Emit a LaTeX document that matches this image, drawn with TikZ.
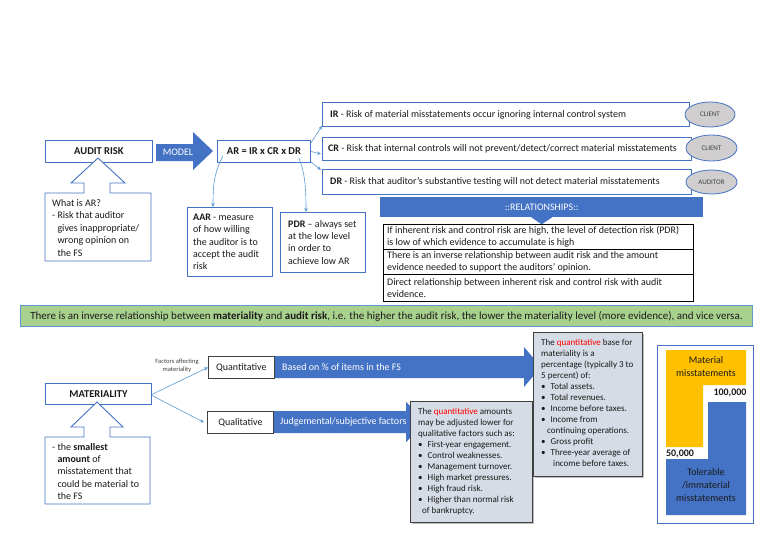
\documentclass[tikz,border=0pt]{standalone}
\usepackage{fontspec}
\setmainfont{Carlito}
\usetikzlibrary{arrows.meta,shapes.geometric}
\definecolor{ofblue}{HTML}{4472C4}
\definecolor{lnblue}{HTML}{5B9BD5}
\definecolor{orng}{HTML}{FFC000}
\definecolor{grn}{HTML}{A9D18E}
\definecolor{gbox}{HTML}{D6DCE5}
\definecolor{ellg}{HTML}{D0CECE}
\definecolor{ink}{HTML}{1A1A1A}
\definecolor{bdr}{HTML}{404040}
\tikzset{
  bx/.style={draw=ofblue, fill=white, line width=0.9pt, inner sep=0pt, anchor=north west},
  tb/.style={draw=black, fill=white, line width=0.8pt, inner sep=0pt, anchor=north west},
  bx2/.style={draw=bdr, fill=white, line width=0.8pt, inner sep=0pt, anchor=north west},
  gb/.style={draw=bdr, fill=gbox, line width=0.8pt, inner sep=0pt, anchor=north west},
  tx/.style={inner sep=0pt, align=left, text=ink, anchor=west},
  ttl/.style={font=\fontsize{10.5}{12}\selectfont\bfseries, text=ink},
  ell/.style={ellipse, draw=ofblue, fill=ellg, line width=0.8pt, inner sep=0pt, font=\fontsize{7}{8}\selectfont, text=bdr},
  conn/.style={draw=lnblue, line width=0.6pt, -{Stealth[length=4pt,width=3.5pt]}},
  sm/.style={font=\fontsize{9}{11}\selectfont},
}
\begin{document}
\begin{tikzpicture}[x=1pt, y=-1pt, font=\fontsize{10}{12.2}\selectfont]
\useasboundingbox[fill=white] (0,0) rectangle (768,543);

% ---------- AUDIT RISK ----------
\node[bx, ttl, minimum width=107pt, minimum height=22pt] (auditrisk) at (45,140) {AUDIT RISK};
\filldraw[draw=ofblue, fill=white, line width=0.9pt]
  (45,261) -- (151,261) -- (151,193) -- (110,193) -- (110,183) -- (125,183) -- (98,158)
  -- (71,183) -- (84,183) -- (84,193) -- (45,193) -- cycle;
\node[tx, font=\fontsize{10}{12.5}\selectfont] (whatar) at (52,228)
  {What is AR?\\- Risk that auditor\\\hphantom{- }gives inappropriate/\\\hphantom{- }wrong opinion on\\\hphantom{- }the FS};

% MODEL arrow
\fill[ofblue] (156,144) -- (193,144) -- (193,132) -- (213,151) -- (193,170) -- (193,161) -- (156,161) -- cycle;
\node[text=white, inner sep=0pt] (model) at (178,152.5) {MODEL};

% AR box
\node[bx, ttl, minimum width=93pt, minimum height=22pt] (ar) at (217,140) {AR = IR x CR x DR};

% AAR and PDR
\node[bx, minimum width=85pt, minimum height=69pt] (aar) at (187,207) {};
\node[tx] (aart) at ([xshift=6pt]aar.west) {\textbf{AAR} - measure\\of how willing\\the auditor is to\\accept the audit\\risk};
\node[bx, minimum width=85pt, minimum height=60pt] (pdr) at (280,212) {};
\node[tx] (pdrt) at ([xshift=8pt]pdr.west) {\textbf{PDR} -- always set\\at the low level\\in order to\\achieve low AR};

% IR CR DR
\node[bx, minimum width=367pt, minimum height=24pt] (ir) at (322,102) {};
\node[tx] (irt) at ([xshift=8pt]ir.west) {\textbf{IR} - Risk of material misstatements occur ignoring internal control system};
\node[bx, minimum width=369pt, minimum height=23pt] (cr) at (322,137) {};
\node[tx] (crt) at ([xshift=6pt]cr.west) {\textbf{CR} - Risk that internal controls will not prevent/detect/correct material misstatements};
\node[bx, minimum width=369pt, minimum height=25pt] (dr) at (322,169) {};
\node[tx] (drt) at ([xshift=8pt]dr.west) {\textbf{DR} - Risk that auditor’s substantive testing will not detect material misstatements};

\node[ell, minimum width=50pt, minimum height=25pt] (e1) at (710,114.5) {CLIENT};
\node[ell, minimum width=51pt, minimum height=26pt] (e2) at (711.5,148) {CLIENT};
\node[ell, minimum width=51pt, minimum height=24pt] (e3) at (711.5,182) {AUDITOR};

% connectors from AR
\draw[conn] ([yshift=-3pt]ar.north east) -- ([yshift=1pt]ir.south west);
\draw[conn] (ar.east) -- ([xshift=-1pt,yshift=-5pt]cr.west);
\draw[conn] ([yshift=1pt]ar.south east) -- ([xshift=-1pt,yshift=-1pt]dr.north west);
\draw[conn] ([xshift=6pt,yshift=7pt]ar.south west) .. controls +(-8,15) and +(0,-25) .. ([xshift=26pt]aar.north west);
\draw[conn] ([xshift=-12pt,yshift=5pt]ar.south east) .. controls +(6,15) and +(0,-25) .. ([xshift=26pt]pdr.north west);

% RELATIONSHIPS
\node[fill=ofblue, minimum width=323pt, minimum height=20pt, anchor=north west, inner sep=0pt,
      text=white, font=\fontsize{10}{11}\selectfont] (relh) at (380,197) {::RELATIONSHIPS::};
\fill[ofblue] ([xshift=-11pt,yshift=0.5pt]relh.south) -- ([xshift=11pt,yshift=0.5pt]relh.south) -- ([yshift=-7pt]relh.south) -- cycle;
\node[tb, minimum width=310pt, minimum height=25pt] (r1) at (383,224) {};
\node[tx] (r1t) at ([xshift=4pt]r1.west) {If inherent risk and control risk are high, the level of detection risk (PDR)\\is low of which evidence to accumulate is high};
\node[tb, minimum width=310pt, minimum height=25pt] (r2) at (383,249) {};
\node[tx] (r2t) at ([xshift=4pt]r2.west) {There is an inverse relationship between audit risk and the amount\\evidence needed to support the auditors’ opinion.};
\node[tb, minimum width=310pt, minimum height=27pt] (r3) at (383,274) {};
\node[tx] (r3t) at ([xshift=4pt]r3.west) {Direct relationship between inherent risk and control risk with audit\\evidence.};

% green bar
\node[draw=lnblue, fill=grn, line width=0.9pt, minimum width=732pt, minimum height=21pt, anchor=north west, inner sep=0pt, text=ink, font=\fontsize{11}{13}\selectfont] (green) at (20,305)
  {There is an inverse relationship between \textbf{materiality} and \textbf{audit risk}, i.e. the higher the audit risk, the lower the materiality level (more evidence), and vice versa.};

% ---------- MATERIALITY ----------
\node[bx, ttl, minimum width=106pt, minimum height=21pt] (mat) at (45,383) {MATERIALITY};
\filldraw[draw=ofblue, fill=white, line width=0.9pt]
  (45,504) -- (150,504) -- (150,437) -- (110,437) -- (110,427) -- (123,427) -- (97,402)
  -- (71,427) -- (84,427) -- (84,437) -- (45,437) -- cycle;
\node[tx, font=\fontsize{10}{12.3}\selectfont] (matt) at (52,471.5)
  {- the \textbf{smallest}\\\hphantom{- }\textbf{amount} of\\\hphantom{- }misstatement that\\\hphantom{- }could be material to\\\hphantom{- }the FS};

% blue arrows
\fill[ofblue] (270,356) -- (524,356) -- (524,347) -- (541,367) -- (524,387) -- (524,378) -- (270,378) -- cycle;
\fill[ofblue] (270,411) -- (406,411) -- (406,402) -- (426,422) -- (406,442) -- (406,433) -- (270,433) -- cycle;
\node[bx2, minimum width=66pt, minimum height=22pt, text=ink] (quant) at (208,356) {Quantitative};
\node[bx2, minimum width=66pt, minimum height=22pt, text=ink] (qual) at (207,411) {Qualitative};
\node[text=white, inner sep=0pt, anchor=west] (quantt) at (282,367) {Based on \% of items in the FS};
\node[text=white, inner sep=0pt, anchor=west] (qualt) at (280,422) {Judgemental/subjective factors};

\draw[conn] ([yshift=-0.5pt]mat.east) -- (quant.west);
\draw[conn] ([yshift=-1.5pt]mat.east) -- ([xshift=-3pt]qual.west);
\node[inner sep=0pt, align=center, text=bdr, font=\fontsize{6.5}{8}\selectfont] (factors) at (177,366) {Factors affecting\\materiality};

% gray boxes
\fill[black!25] (412,403) rectangle (534,524);
\node[gb, minimum width=122pt, minimum height=121pt] (lbox) at (410,401) {};
\node[tx, sm] (lboxt) at (418,462)
  {The \textcolor{red}{quantitative} amounts\\may be adjusted lower for\\qualitative factors such as:\\%
   •\hspace{5pt}First-year engagement.\\•\hspace{5pt}Control weaknesses.\\•\hspace{5pt}Management turnover.\\%
   •\hspace{5pt}High market pressures.\\•\hspace{5pt}High fraud risk.\\•\hspace{5pt}Higher than normal risk\\\hspace{4pt}of bankruptcy.};
\fill[black!25] (535,334) rectangle (644,478);
\node[gb, minimum width=109pt, minimum height=144pt] (qbox) at (533,332) {};
\node[tx, sm] (qboxt) at (541,403)
  {The \textcolor{red}{quantitative} base for\\materiality is a\\percentage (typically 3 to\\5 percent) of:\\%
   •\hspace{5pt}Total assets.\\•\hspace{5pt}Total revenues.\\•\hspace{5pt}Income before taxes.\\%
   •\hspace{5pt}Income from\\\hspace{6pt}continuing operations.\\•\hspace{5pt}Gross profit\\%
   •\hspace{5pt}Three-year average of\\\hspace{12pt}income before taxes.};

% right panel
\node[draw=ofblue, fill=white, line width=0.9pt, minimum width=96pt, minimum height=178pt, anchor=north west, inner sep=0pt] (panel) at (657,345) {};
\fill[orng] (666,350) -- (746,350) -- (746,385) -- (703,385) -- (703,447) -- (666,447) -- cycle;
\fill[ofblue] (708,402) -- (746,402) -- (746,515) -- (666,515) -- (666,459) -- (708,459) -- cycle;
\node[inner sep=0pt, align=center, text=ink, font=\fontsize{10}{13}\selectfont] (mm) at (706,366.5) {Material\\misstatements};
\node[inner sep=0pt, text=ink, font=\fontsize{10}{12}\selectfont\bfseries] (n100) at (730,393) {100,000};
\node[inner sep=0pt, text=ink, font=\fontsize{10}{12}\selectfont\bfseries] (n50) at (680,454) {50,000};
\node[inner sep=0pt, align=center, text=ink, font=\fontsize{10}{13}\selectfont] (tol) at (706,485) {Tolerable\\/immaterial\\misstatements};
\end{tikzpicture}
\end{document}
